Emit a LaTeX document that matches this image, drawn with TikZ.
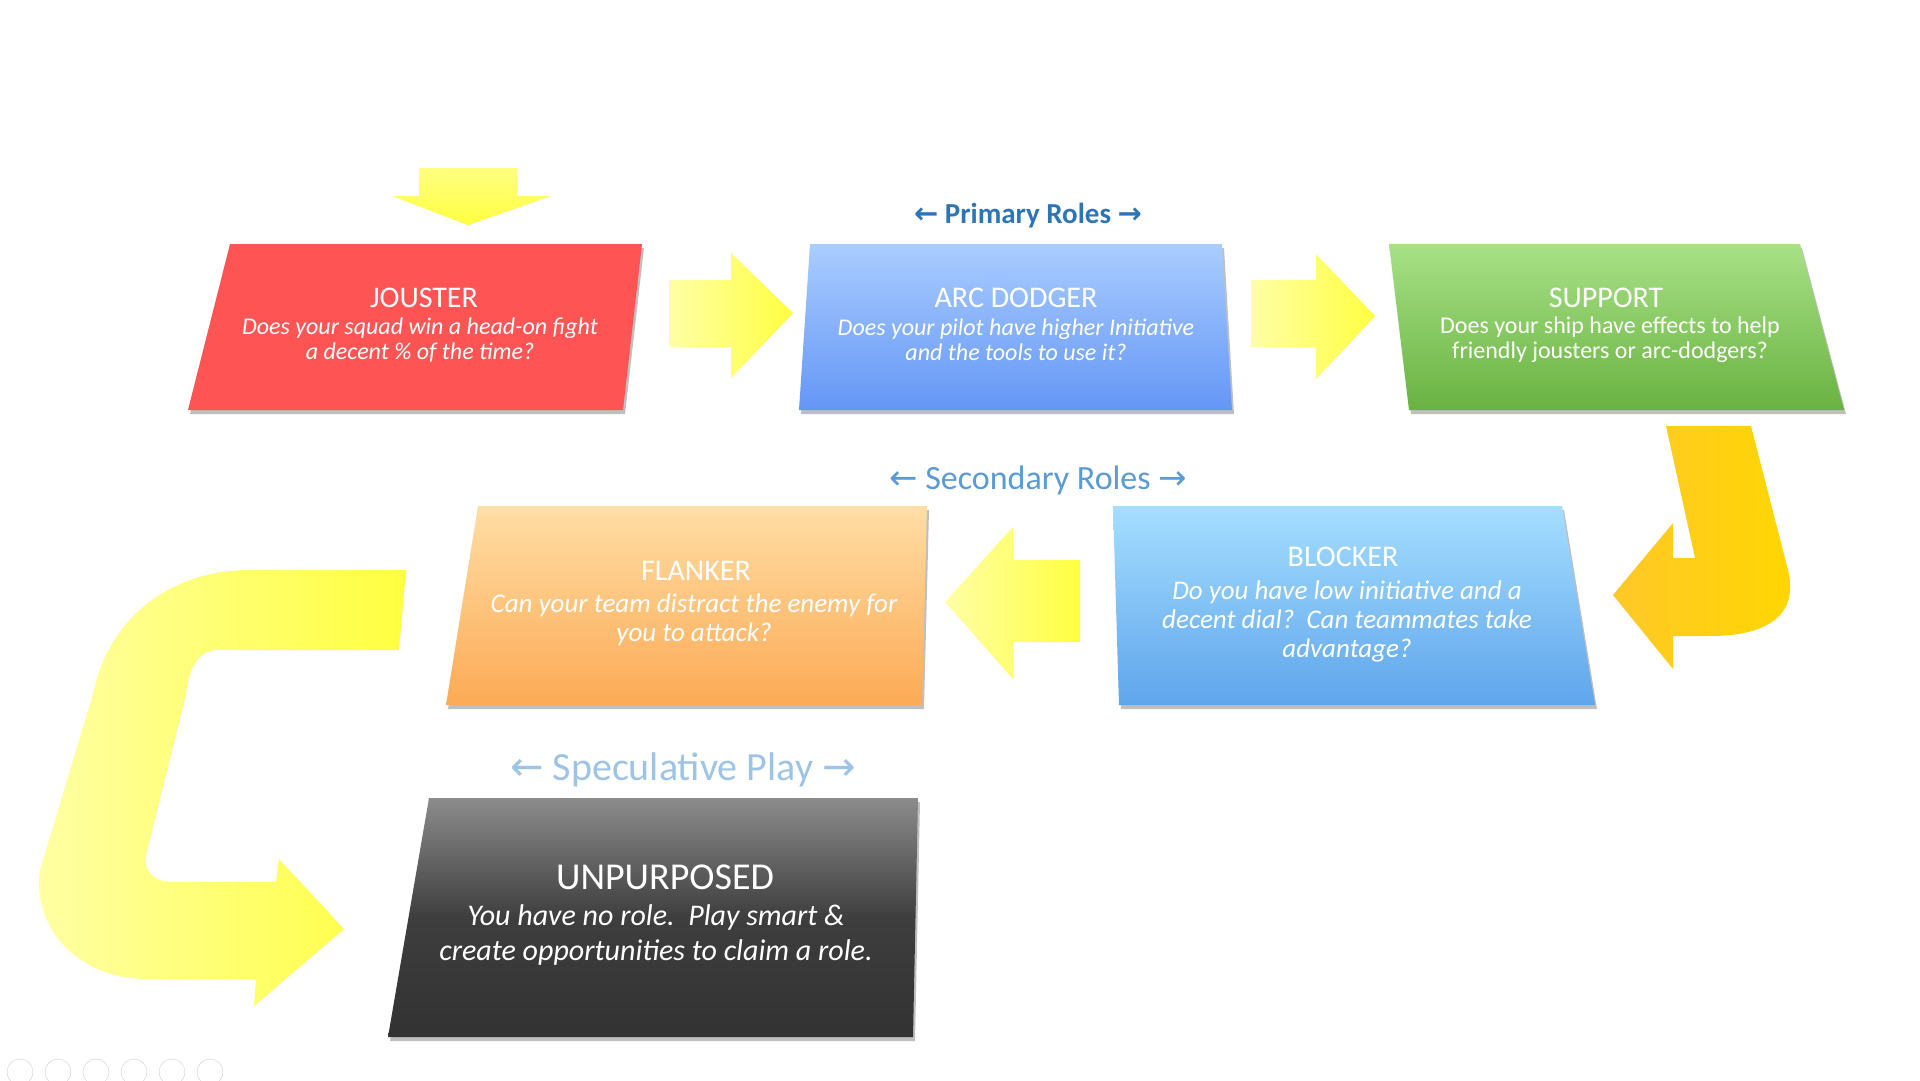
\documentclass[tikz,border=0pt]{standalone}
\usepackage{fontspec}
\setmainfont{Carlito}
\newfontfamily\arr{DejaVu Sans}
\newcommand{\la}{{\arr\char"2190}}
\newcommand{\ra}{{\arr\char"2192}}
\definecolor{redb}{RGB}{255,84,84}
\definecolor{blu1}{RGB}{170,205,255}\definecolor{blu2}{RGB}{100,150,245}
\definecolor{grn1}{RGB}{168,225,135}\definecolor{grn2}{RGB}{105,178,65}
\definecolor{org1}{RGB}{255,222,165}\definecolor{org2}{RGB}{252,170,85}
\definecolor{blk1}{RGB}{165,222,255}\definecolor{blk2}{RGB}{95,165,235}
\definecolor{dk1}{RGB}{140,140,140}\definecolor{dk2}{RGB}{50,50,50}\definecolor{dk3}{RGB}{62,62,62}
\definecolor{lb1}{RGB}{46,117,182}\definecolor{lb2}{RGB}{91,155,213}\definecolor{lb3}{RGB}{157,195,230}
\definecolor{go1}{RGB}{255,200,40}\definecolor{go2}{RGB}{255,215,0}
\begin{document}
\begin{tikzpicture}[x=1pt,y=-1pt,
 ttl/.style={text=white,font=\fontsize{30}{34}\selectfont,align=center},
 bdy/.style={text=white,font=\itshape\fontsize{24}{25}\selectfont,align=center},
 shd/.style={fill=black,opacity=0.25},
 yel/.style={left color=yellow!35!white,right color=yellow!75!white}]
\useasboundingbox (0,0) rectangle (1920,1080);
\fill[white] (0,0) rectangle (1920,1080);
% shadows
\foreach \p in {{(230,244)--(642,244)--(623,410)--(188,410)},{(810,244)--(1222,244)--(1232,410)--(799,410)},{(1389,244)--(1800,244)--(1844,410)--(1409,410)},{(478,506)--(927,506)--(922,705)--(446,705)},{(1113,506)--(1562,506)--(1595,705)--(1119,705)},{(429,798)--(918,798)--(913,1037)--(388,1037)}}
 {\fill[shd,shift={(2,4)}] \p --cycle;}
% boxes
\fill[redb] (230,244)--(642,244)--(623,410)--(188,410)--cycle;
\shade[shading angle=-30,top color=blu1,bottom color=blu2] (810,244)--(1222,244)--(1232,410)--(799,410)--cycle;
\shade[shading angle=-30,top color=grn1,bottom color=grn2] (1389,244)--(1800,244)--(1844,410)--(1409,410)--cycle;
\shade[top color=org1,bottom color=org2] (478,506)--(927,506)--(922,705)--(446,705)--cycle;
\shade[shading angle=-30,top color=blk1,bottom color=blk2] (1113,506)--(1562,506)--(1595,705)--(1119,705)--cycle;
\shade[top color=dk1,bottom color=dk2,middle color=dk3] (429,798)--(918,798)--(913,1037)--(388,1037)--cycle;
% texts
\node[ttl] (jt) at (424,298) {JOUSTER};
\node[bdy] (jb) at (420,340) {Does your squad win a head-on fight\\a decent \% of the time?};
\node[ttl] (at) at (1016,298) {ARC DODGER};
\node[bdy] (ab) at (1016,340) {Does your pilot have higher Initiative\\and the tools to use it?};
\node[ttl] (st) at (1606,298) {SUPPORT};
\node[bdy,font=\fontsize{24}{25}\selectfont] (sb) at (1610,340) {Does your ship have effects to help\\friendly jousters or arc-dodgers?};
\node[ttl] (ft) at (696,571) {FLANKER};
\node[bdy,font=\itshape\fontsize{27}{29}\selectfont] (fb) at (694,620) {Can your team distract the enemy for\\you to attack?};
\node[ttl] (bt) at (1343,557) {BLOCKER};
\node[bdy,font=\itshape\fontsize{27}{29}\selectfont] (bb) at (1347,621) {Do you have low initiative and a\\decent dial?\ \ Can teammates take\\advantage?};
\node[ttl,font=\fontsize{38}{42}\selectfont] (ut) at (665,877) {UNPURPOSED};
\node[bdy,font=\itshape\fontsize{30}{35}\selectfont] (ub) at (656,935) {You have no role.\ \ Play smart \&\\create opportunities to claim a role.};
% labels
\node[font=\bfseries\fontsize{29}{32}\selectfont,text=lb1] (pr) at (1028,216) {\la\ Primary Roles \ra};
\node[font=\fontsize{34}{38}\selectfont,text=lb2] (sr) at (1038,480) {\la\ Secondary Roles \ra};
\node[font=\fontsize{40}{44}\selectfont,text=lb3] (sp) at (683,770) {\la\ Speculative Play \ra};
% arrows
\shade[top color=yellow!50!white,bottom color=yellow!75!white] (419,168)--(517,168)--(517,196)--(551,196)--(468,225)--(392,196)--(419,196)--cycle;
\shade[yel] (669,280)--(731,280)--(731,253)--(793,313)--(731,378)--(731,347)--(669,347)--cycle;
\shade[yel] (1251,280)--(1316,280)--(1316,254)--(1375,316)--(1316,379)--(1316,347)--(1251,347)--cycle;
\shade[yel] (1080,560)--(1013,560)--(1013,527)--(945,602)--(1013,679)--(1013,642)--(1080,642)--cycle;
\shade[left color=go1,right color=go2]
 (1666,426)--(1751,426)--(1788,570) .. controls (1800,620) and (1760,636) .. (1710,636)--(1673,636)--(1673,669)--(1613,595)--(1673,523)--(1673,558)--(1695,558)--cycle;
\shade[yel]
 (406,570)--(399,650)--(217,650) .. controls (195,650) and (188,675) .. (186,694)--(146,855) .. controls (143,872) and (155,882) .. (173,882)--(276,882)--(279,859)--(344,929)--(254,1006)--(256,979)--(149,979) .. controls (70,979) and (32,920) .. (40,870)--(93,694) .. controls (110,610) and (180,570) .. (248,570)--cycle;
% toolbar
\foreach \i in {0,...,5} \draw[gray!40] (20+38*\i,1072) circle (13);
\end{tikzpicture}
\end{document}
